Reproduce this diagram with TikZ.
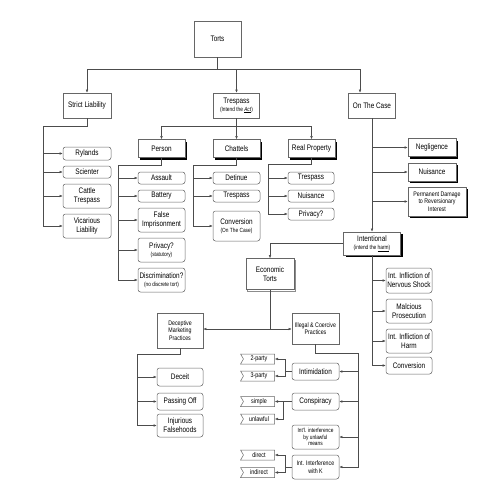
\documentclass[tikz,border=0pt]{standalone}
\usepackage{fontspec}
\setmainfont{Liberation Sans}[FakeStretch=0.8]
\usetikzlibrary{arrows.meta,shadows,shapes.symbols}
\newcommand\smalltxt{\fontsize{6}{6.6}\selectfont}
\newcommand\midtxt{\fontsize{6.6}{7.4}\selectfont}
\tikzset{
  base/.style={draw=black!60, line width=0.5pt, fill=white, align=center, inner sep=0pt, text=black, font=\fontsize{8}{9}\selectfont},
  wh/.style 2 args={minimum width=#1pt, minimum height=#2pt},
  plainbox/.style={base},
  shadbox/.style={base, general shadow={fill=black, shadow xshift=2.2pt, shadow yshift=-2.2pt}},
  econbox/.style={base, general shadow={draw=black!45, fill=white, line width=0.4pt, shadow xshift=1.6pt, shadow yshift=-1.2pt}},
  leaf/.style={base, rounded corners=2.5pt},
  tagbox/.style={draw=black!60, line width=0.5pt, fill=white, signal, signal to=nowhere, signal from=west, signal pointer angle=120, minimum width=34pt, minimum height=10pt, inner sep=0pt, font=\fontsize{6.8}{7.5}\selectfont},
  conn/.style={draw=black!70, line width=0.5pt},
  arr/.style={conn, -{Latex[length=3.2pt,width=2.6pt]}}
}
\begin{document}
\begin{tikzpicture}[x=1pt,y=-1pt]
\useasboundingbox (0,0) rectangle (495,495);
\fill[white] (0,0) rectangle (495,495);

% top level
\node[plainbox, wh={47}{36}] (torts) at (217.5,39) {Torts};
\node[plainbox, wh={48}{25}] (strict) at (87,105.5) {Strict Liability};
\node[plainbox, wh={46}{25}] (trespass) at (236.5,105.5) {Trespass\\[-1pt]{\smalltxt(Intend the \underline{\textit{Act}})}};
\node[plainbox, wh={47}{25}] (case) at (372,105.5) {On The Case};

\coordinate (bus0) at (217.5,69);
\draw[conn] (torts) -- (bus0);
\draw[arr] (bus0) -| (strict);
\draw[arr] (bus0) -| (trespass);
\draw[arr] (bus0) -| ([xshift=-12pt]case.north);

% strict liability
\node[leaf, wh={48}{13}] (rylands) at (87,153.5) {Rylands};
\node[leaf, wh={48}{12}] (scienter) at (87,172) {Scienter};
\node[leaf, wh={48}{24}] (cattle) at (87,196) {Cattle\\Trespass};
\node[leaf, wh={48}{24}] (vicarious) at (87,226) {Vicarious\\Liability};
\coordinate (sbus) at (43,126);
\draw[conn] (strict) |- (sbus);
\foreach \n in {rylands,scienter,cattle,vicarious} \draw[arr] (sbus) |- (\n);

% trespass
\node[shadbox, wh={47}{18}] (person) at (161.5,148.5) {Person};
\node[shadbox, wh={47}{18}] (chattels) at (236.5,148.5) {Chattels};
\node[shadbox, wh={47}{18}] (realp) at (311.5,148.5) {Real Property};
\coordinate (tbus) at (236.5,126);
\draw[conn] (trespass) -- (tbus);
\draw[arr] (tbus) -| (person);
\draw[arr] (tbus) -- (chattels);
\draw[arr] (tbus) -| (realp);

% person
\node[leaf, wh={47}{12}] (assault) at (161.5,178) {Assault};
\node[leaf, wh={47}{12}] (battery) at (161.5,196) {Battery};
\node[leaf, wh={47}{24}] (falseimp) at (161.5,220) {False\\Imprisonment};
\node[leaf, wh={47}{24}] (privacy) at (161.5,250) {Privacy?\\[-1pt]{\smalltxt(statutory)}};
\node[leaf, wh={47}{24}] (discrim) at (161.5,280) {Discrimination?\\[-1pt]{\smalltxt(no discrete tort)}};
\coordinate (pbus) at (118,165);
\draw[conn] (person) |- (pbus);
\foreach \n in {assault,battery,falseimp,privacy,discrim} \draw[arr] (pbus) |- (\n);

% chattels
\node[leaf, wh={47}{12}] (detinue) at (236.5,178) {Detinue};
\node[leaf, wh={47}{12}] (trespassc) at (236.5,196) {Trespass};
\node[leaf, wh={47}{30}] (conversion) at (236.5,226) {Conversion\\[-1pt]{\smalltxt(On The Case)}};
\coordinate (cbus) at (193,165);
\draw[conn] (chattels) |- (cbus);
\foreach \n in {detinue,trespassc,conversion} \draw[arr] (cbus) |- (\n);

% real property
\node[leaf, wh={46}{12}] (trespassr) at (311,178) {Trespass};
\node[leaf, wh={46}{12}] (nuisancer) at (311,196) {Nuisance};
\node[leaf, wh={46}{12}] (privacyr) at (311,214) {Privacy?};
\coordinate (rbus) at (268,164);
\draw[conn] (realp) |- (rbus);
\foreach \n in {trespassr,nuisancer,privacyr} \draw[arr] (rbus) |- (\n);

% on the case
\node[shadbox, wh={48}{18}] (negligence) at (432,147.5) {Negligence};
\node[shadbox, wh={48}{18}] (nuisancec) at (432,172) {Nuisance};
\node[shadbox, wh={58}{29}, font=\midtxt] (permanent) at (437,201.5) {Permanent Damage\\to Reversionary\\Interest};
\node[shadbox, wh={57}{23}] (intentional) at (372,243.5) {Intentional\\[-1pt]{\smalltxt(intend the \underline{harm})}};
\draw[arr] (case) -- (intentional);
\foreach \n in {negligence,nuisancec,permanent} \draw[arr] (case.south |- \n.west) -- (\n);

% intentional
\node[econbox, wh={48}{31}] (econ) at (270,274) {Economic\\Torts};
\draw[arr] (intentional.west) -| (econ);
\node[leaf, wh={46}{25}] (shock) at (409,280.5) {Int. Infliction of\\Nervous Shock};
\node[leaf, wh={46}{24}] (malicious) at (409,311) {Malcious\\Prosecution};
\node[leaf, wh={46}{24}] (harm) at (409,341) {Int. Infliction of\\Harm};
\node[leaf, wh={46}{17}] (conv) at (409,365.5) {Conversion};
\coordinate (ibus) at (372,365.5);
\draw[conn] (intentional) -- (ibus);
\foreach \n in {shock,malicious,harm,conv} \draw[arr] (intentional.south |- \n.west) -- (\n);

% economic torts
\node[plainbox, wh={46}{35}, font=\midtxt] (deceptive) at (180,330.5) {Deceptive\\Marketing\\Practices};
\node[plainbox, wh={47}{31}, font=\midtxt] (illegal) at (315.5,328.5) {Illegal \& Coercive\\Practices};
\coordinate (ebus) at (270,329);
\draw[conn] (econ) -- (ebus);
\draw[arr] (ebus) -- (deceptive.east |- ebus);
\draw[arr] (ebus) -- (illegal.west |- ebus);

% deceptive
\node[leaf, wh={46}{18}] (deceit) at (180,377) {Deceit};
\node[leaf, wh={46}{17}] (passing) at (180,401.5) {Passing Off};
\node[leaf, wh={46}{23}] (injurious) at (180,425.5) {Injurious\\Falsehoods};
\coordinate (dbus) at (137,354);
\draw[conn] (deceptive) |- (dbus);
\foreach \n in {deceit,passing,injurious} \draw[arr] (dbus) |- (\n);

% illegal
\node[leaf, wh={47}{17}] (intim) at (315.5,371.5) {Intimidation};
\node[leaf, wh={47}{17}] (consp) at (315.5,401.5) {Conspiracy};
\node[leaf, wh={47}{24}, font=\fontsize{6}{6.8}\selectfont] (intl) at (315.5,437) {Int'l. interference\\by unlawful\\means};
\node[leaf, wh={47}{24}, font=\midtxt] (withk) at (315.5,467) {Int. Interference\\with K};
\coordinate (lbus) at (358,353);
\draw[conn] (illegal) |- (lbus);
\foreach \n in {intim,consp,intl,withk} \draw[arr] (lbus) |- (\n);

% tags
\node[tagbox] (twop) at (259,359) {2-party};
\node[tagbox] (threep) at (259,376) {3-party};
\node[tagbox] (simple) at (259,401.5) {simple};
\node[tagbox] (unlawful) at (259,419) {unlawful};
\node[tagbox] (direct) at (259,455) {direct};
\node[tagbox] (indirect) at (259,472.5) {indirect};

\coordinate (k1) at (285,371.5);
\draw[conn] (intim) -- (k1);
\draw[arr] (k1) |- (twop);
\draw[arr] (k1) |- (threep);
\coordinate (k2) at (283,401.5);
\draw[conn] (consp) -- (k2);
\draw[arr] (k2) |- (simple);
\draw[arr] (k2) |- (unlawful);
\coordinate (k3) at (285,467);
\draw[conn] (withk) -- (k3);
\draw[arr] (k3) |- (direct);
\draw[arr] (k3) |- (indirect);
\end{tikzpicture}
\end{document}
